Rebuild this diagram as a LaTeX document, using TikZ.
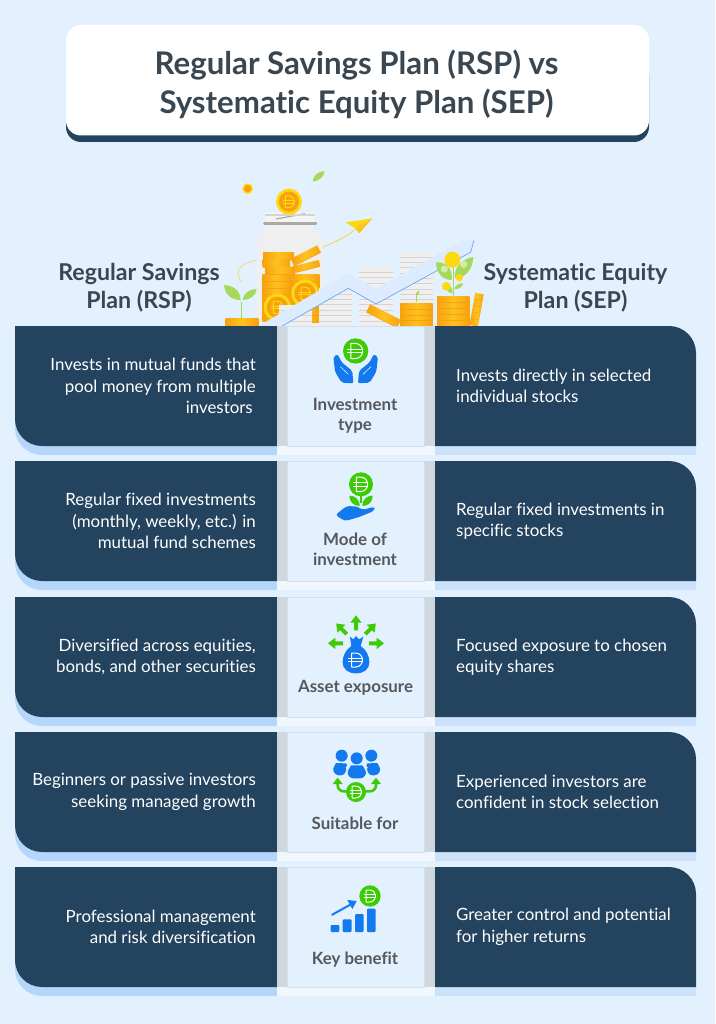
\documentclass[tikz,border=0pt]{standalone}
\usepackage{fontspec}
\setmainfont{Lato}[Ligatures=NoCommon]
\definecolor{bgc}{HTML}{E3F1FE}
\definecolor{navy}{HTML}{23435F}
\definecolor{shad}{HTML}{B3D6FA}
\definecolor{shadr}{HTML}{CBE2FA}
\definecolor{band}{HTML}{F0F7FF}
\definecolor{txt}{HTML}{3A4650}
\definecolor{lab}{HTML}{55595E}
\definecolor{blu}{HTML}{1279EE}
\definecolor{grn}{HTML}{3DCB06}
\definecolor{gry}{HTML}{D0D8DF}
\definecolor{gold}{HTML}{FFC21F}
\definecolor{dgold}{HTML}{F6A20E}
\definecolor{lgold}{HTML}{FFD90F}
\definecolor{lvs}{HTML}{A5D95A}
\definecolor{sil}{HTML}{EFEFEF}
\definecolor{sild}{HTML}{D4D4D4}
\definecolor{arw}{HTML}{DCEBFD}
\definecolor{arwl}{HTML}{6BA8F2}
\tikzset{x=1pt,y=-1pt,
 lcell/.style={text=white,font=\fontsize{16.9}{21.5}\selectfont,align=right,inner sep=0pt,anchor=east},
 rcell/.style={text=white,font=\fontsize{16.9}{21.5}\selectfont,align=left,inner sep=0pt,anchor=west},
 ttl/.style={text=txt,font=\fontsize{31.2}{39.5}\selectfont\bfseries,align=center,inner sep=0pt},
 hd/.style={text=txt,font=\fontsize{23.2}{27.5}\selectfont\bfseries,align=center,inner sep=0pt},
 lbl/.style={text=lab,font=\fontsize{16.9}{20}\selectfont\bfseries,align=center,inner sep=0pt},
 zm/.style={shift={(#1)},xscale=1/3,yscale=1/3}}
% gold coin stack x1 y1 x2 y2 rows
\newcommand\gstack[5]{%
 \shade[left color=dgold,right color=dgold,middle color=gold] (#1,#2) rectangle (#3,#4);
 \foreach \i in {1,...,#5}{\draw[dgold,line width=.5pt] (#1,{#2+(#4-#2)*\i/#5}) -- (#3,{#2+(#4-#2)*\i/#5});}}
\newcommand\wstack[5]{%
 \fill[sil] (#1,#2) rectangle (#3,#4);
 \foreach \i in {1,...,#5}{\draw[sild,line width=.5pt] (#1,{#2+(#4-#2)*\i/#5}) -- (#3,{#2+(#4-#2)*\i/#5});}}
% coin symbol x y r colour
\newcommand\dsym[4]{%
 \begin{scope}[shift={(#1,#2)}]
 \draw[#4,line width=1pt,line join=round] ({-.38*#3},{-.6*#3}) -- ({-.38*#3},{.6*#3}) -- ({-.05*#3},{.6*#3})
   .. controls ({.75*#3},{.6*#3}) and ({.75*#3},{-.6*#3}) .. ({-.05*#3},{-.6*#3}) -- cycle;
 \draw[#4,line width=.7pt] ({-.65*#3},{-.14*#3}) -- ({.6*#3},{-.14*#3}) ({-.65*#3},{.14*#3}) -- ({.6*#3},{.14*#3});
 \end{scope}}
\newcommand\gcoin[3]{%
 \pgfmathsetmacro\csym{#3*.75}%
 \fill[lgold] (#1,#2) circle (#3);
 \fill[dgold] (#1,#2) circle ({#3*.78});
 \dsym{#1}{#2}{\csym}{lgold}}
% green arrow from centre (258,160), direction dx dy
\newcommand\garrow[2]{%
 \fill[grn] ({258+39*#1-6*#2},{160+39*#2+6*#1}) -- ({258+62*#1-6*#2},{160+62*#2+6*#1}) -- ({258+62*#1-17*#2},{160+62*#2+17*#1})
  -- ({258+84*#1},{160+84*#2}) -- ({258+62*#1+17*#2},{160+62*#2-17*#1}) -- ({258+62*#1+6*#2},{160+62*#2-6*#1}) -- ({258+39*#1+6*#2},{160+39*#2-6*#1}) -- cycle;}
\begin{document}
\begin{tikzpicture}
\fill[bgc] (0,0) rectangle (715,1024);
\useasboundingbox (0,0) rectangle (715,1024);
% title
\fill[navy,rounded corners=15pt] (66,60) rectangle (649,142);
\fill[white,rounded corners=15pt] (66,25) rectangle (649,135.5);
\node[ttl] (title) at (356.5,84.5) {Regular Savings Plan (RSP) vs\\Systematic Equity Plan (SEP)};
\node[hd] (hl) at (139,287.5) {Regular Savings\\Plan (RSP)};
\node[hd] (hr) at (575.5,287.5) {Systematic Equity\\Plan (SEP)};
% illustration, in coordinates of a 3x view
\begin{scope}[zm={200,165}]
 % arc behind
 \draw[gold!85!white,line width=.5pt] (125,350) .. controls (95,315) and (130,285) .. (190,285);
 \draw[gold!85!white,line width=.7pt] (320,262) .. controls (375,245) and (430,225) .. (465,193);
 % coins in air
 \fill[lgold] (143,71) circle (16); \fill[dgold] (143,71) circle (11);
 \fill[lvs] (338,50) .. controls (340,30) and (355,20) .. (374,18) .. controls (372,35) and (358,48) .. (338,50) -- cycle;
 % paper plane
 \fill[lgold] (517,160) -- (437,172) -- (465,190) -- cycle;
 \fill[gold] (517,160) -- (465,190) -- (478,205) -- cycle;
 % jar
 \fill[sil] (200,178) .. controls (195,195) and (170,205) .. (170,240) -- (170,484) -- (370,484) -- (370,240)
   .. controls (370,205) and (345,195) .. (340,178) -- cycle;
 \fill[sil!70!white] (195,140) rectangle (345,172);
 \draw[sild!80!black,line width=1.2pt] (228,162) -- (315,146);
 \draw[sild!80!black,line width=2.4pt,line cap=round] (193,176) -- (348,176);
 \draw[sild,line width=1.2pt] (195,150) -- (345,150);
 \gcoin{267}{110}{39}
 % gold in jar
 \gstack{188}{328}{270}{470}{7}
 \gstack{272}{328}{358}{472}{7}
 \gstack{190}{263}{282}{284}{1}
 \gstack{188}{285}{270}{306}{1}
 \gstack{195}{307}{285}{327}{1}
 \begin{scope}[rotate around={27:(317,272)}]\gstack{272}{260}{362}{284}{1}\end{scope}
 \begin{scope}[rotate around={14:(316,305)}]\gstack{273}{295}{360}{315}{1}\end{scope}
 \gcoin{232}{427}{41}
 \gcoin{315}{385}{41}
 % silver stacks
 \wstack{237}{420}{335}{484}{4}
 \wstack{358}{370}{455}{484}{7}
 \wstack{478}{305}{578}{484}{11}
 \wstack{600}{260}{698}{420}{10}
 % sprout left
 \gstack{77}{462}{175}{484}{1}
 \draw[lvs,line width=1pt] (124,460) -- (124,410);
 \fill[lvs] (122,405) .. controls (95,405) and (75,390) .. (72,360) .. controls (100,362) and (120,375) .. (122,405) -- cycle;
 \fill[lvs] (128,405) .. controls (130,385) and (148,372) .. (170,372) .. controls (168,392) and (150,405) .. (128,405) -- cycle;
 % arrow chart
 \fill[arw] (175,484) -- (445,325) -- (528,372) -- (795,222) -- (822,226) -- (812,262) -- (528,417) -- (445,370) -- (245,484) -- cycle;
 \draw[arwl,line width=.7pt] (245,484) -- (445,370) -- (528,417) -- (812,262) -- (822,226);
 % gold right
 \gstack{600}{417}{698}{484}{4}
 \gstack{711}{395}{808}{484}{5}
 \begin{scope}[rotate around={-27:(551,453)}]\gstack{499}{440}{603}{466}{1}\end{scope}
 \begin{scope}[rotate around={-10:(830,433)}]\gstack{817}{385}{843}{482}{5}\end{scope}
 % small sprout
 \draw[lvs,line width=.8pt] (650,412) -- (650,390);
 \fill[lvs] (648,392) .. controls (645,385) and (650,380) .. (658,377) .. controls (660,385) and (656,392) .. (648,392) -- cycle;
 % plant right
 \draw[lvs,line width=1.5pt] (760,392) -- (760,300);
 \fill[lvs] (755,345) .. controls (725,345) and (708,320) .. (708,292) .. controls (735,290) and (760,310) .. (755,345) -- cycle;
 \fill[lvs] (765,340) .. controls (760,305) and (790,280) .. (820,276) .. controls (818,310) and (800,338) .. (765,340) -- cycle;
 \fill[lvs] (757,385) .. controls (742,385) and (738,370) .. (736,356) .. controls (748,358) and (760,370) .. (757,385) -- cycle;
 \fill[lvs] (763,372) .. controls (765,360) and (778,355) .. (790,355) .. controls (786,368) and (775,373) .. (763,372) -- cycle;
 \fill[white!50!lvs] (733,312) circle (11) (791,298) circle (11);
 \fill[lgold] (757,284) circle (24) (778,338) circle (11) (739,364) circle (13);
\end{scope}
% rows
\foreach \n/\y/\lt/\rt in {1/326/{Invests in mutual funds that\\pool money from multiple\\investors\hspace*{3pt}}/{Invests directly in selected\\individual stocks},
2/461/{Regular fixed investments\\(monthly, weekly, etc.) in\\mutual fund schemes}/{Regular fixed investments in\\specific stocks},
3/597/{Diversified across equities,\\bonds, and other securities}/{Focused exposure to chosen\\equity shares},
4/732/{Beginners or passive investors\\seeking managed growth}/{Experienced investors are\\confident in stock selection},
5/867/{Professional management\\and risk diversification}/{Greater control and potential\\for higher returns}}{
 \begin{scope}[shift={(0,\y)}]
 \fill[shad] (15,60) -- (15,102) .. controls (15,117) and (27,129) .. (42,129) -- (277,129) -- (277,60) -- cycle;
 \fill[shadr] (435,100) rectangle (696,129);
 \fill[band] (277,100) rectangle (435,129);
 \fill[navy] (15,0) -- (15,93) .. controls (15,108) and (27,120) .. (42,120) -- (277,120) -- (277,0) -- cycle;
 \fill[navy] (435,0) -- (669,0) .. controls (684,0) and (696,12) .. (696,27) -- (696,120) -- (435,120) -- cycle;
 \fill[gry] (277,0) rectangle (435,120);
 \fill[bgc,draw=gry!70!bgc,line width=1pt] (287.5,0.5) rectangle (424.5,120);
 \node[lcell] (l\n) at (256,60) {\lt};
 \node[rcell] (r\n) at (456,60) {\rt};
 \end{scope}
}
% labels
\node[lbl] (a) at (355,416) {Investment\\type};
\node[lbl] (b) at (355,549) {Mode of\\investment};
\node[lbl] (c) at (355.5,688) {Asset exposure};
\node[lbl] (d) at (355,823.5) {Suitable for};
\node[lbl] (e) at (355,960) {Key benefit};
% icon 1: hands
\begin{scope}[zm={270,325}]
 \foreach \s in {1,-1}{
 \begin{scope}[shift={(257,0)},xscale=\s]
  \fill[blu,rounded corners=2pt] (-67,95) -- (-54,88) -- (-42,112) -- (-10,138) -- (-7,175) -- (-42,173) -- (-62,140) -- cycle;
  \draw[bgc,line width=.6pt] (-46,125) -- (-22,148);
 \end{scope}}
 \fill[grn] (257,78) circle (38);
 \dsym{257}{78}{38}{white}
\end{scope}
% icon 2: plant in hand
\begin{scope}[zm={0,320}]
 \fill[grn] (1083,493) circle (36);
 \dsym{1083}{493}{36}{white}
 \fill[grn] (1079,558) .. controls (1060,558) and (1048,545) .. (1048,527) .. controls (1062,527) and (1079,535) .. (1079,558) -- cycle;
 \fill[grn] (1087,558) .. controls (1106,558) and (1118,545) .. (1118,527) .. controls (1104,527) and (1087,535) .. (1087,558) -- cycle;
 \fill[grn] (1080,525) rectangle (1086,550);
 \fill[blu,rounded corners=3pt] (1006,585) -- (1040,558) -- (1075,560) -- (1085,570) -- (1125,560) -- (1122,573) -- (1075,592) -- (1035,603) -- cycle;
\end{scope}
% icons 3, 4
\begin{scope}[zm={270,590}]
 % bag
 \fill[blu] (240,140) -- (250,148) -- (258,138) -- (268,148) -- (280,140) -- (272,168)
   .. controls (290,180) and (298,200) .. (298,215) .. controls (298,240) and (280,250) .. (258,250)
   .. controls (236,250) and (218,240) .. (218,215) .. controls (218,200) and (226,180) .. (244,168) -- cycle;
 \dsym{258}{210}{35}{white}
 % arrows
 \garrow{1}{0}
 \garrow{-1}{0}
 \garrow{0}{-1}
 \garrow{.7071}{-.7071}
 \garrow{-.7071}{-.7071}
 % people
 \fill[blu] (215,497) circle (18) (304,497) circle (18);
 \fill[blu,rounded corners=6pt] (189,555) .. controls (190,530) and (200,519) .. (215,519) -- (240,522) .. controls (230,530) and (228,545) .. (228,557) -- cycle;
 \fill[blu,rounded corners=6pt] (331,555) .. controls (330,530) and (320,519) .. (305,519) -- (280,522) .. controls (290,530) and (292,545) .. (292,557) -- cycle;
 \fill[blu] (260,505) circle (18);
 \fill[blu,rounded corners=6pt] (233,565) .. controls (233,540) and (245,526) .. (260,526) .. controls (275,526) and (288,540) .. (288,565) -- cycle;
 % money arrows
 \draw[grn,line width=2.6pt,rounded corners=6pt] (203,580) -- (203,604) -- (318,604) -- (318,580);
 \fill[grn] (188,582) -- (203,563) -- (218,582) -- cycle (303,582) -- (318,563) -- (333,582) -- cycle;
 \fill[grn] (258,606) circle (30);
 \dsym{258}{606}{30}{white}
\end{scope}
% icon 5
\begin{scope}[zm={270,860}]
 \fill[blu,rounded corners=1pt] (182,195) rectangle (208,216) (218,178) rectangle (245,216) (255,162) rectangle (281,216) (291,146) rectangle (317,216);
 \draw[blu,line width=2pt] (185,165) -- (250,129);
 \fill[blu] (232,120) -- (260,123) -- (247,147) -- cycle;
 \fill[grn] (300,108) circle (32);
 \dsym{300}{108}{30}{white}
\end{scope}
\end{tikzpicture}
\end{document}
